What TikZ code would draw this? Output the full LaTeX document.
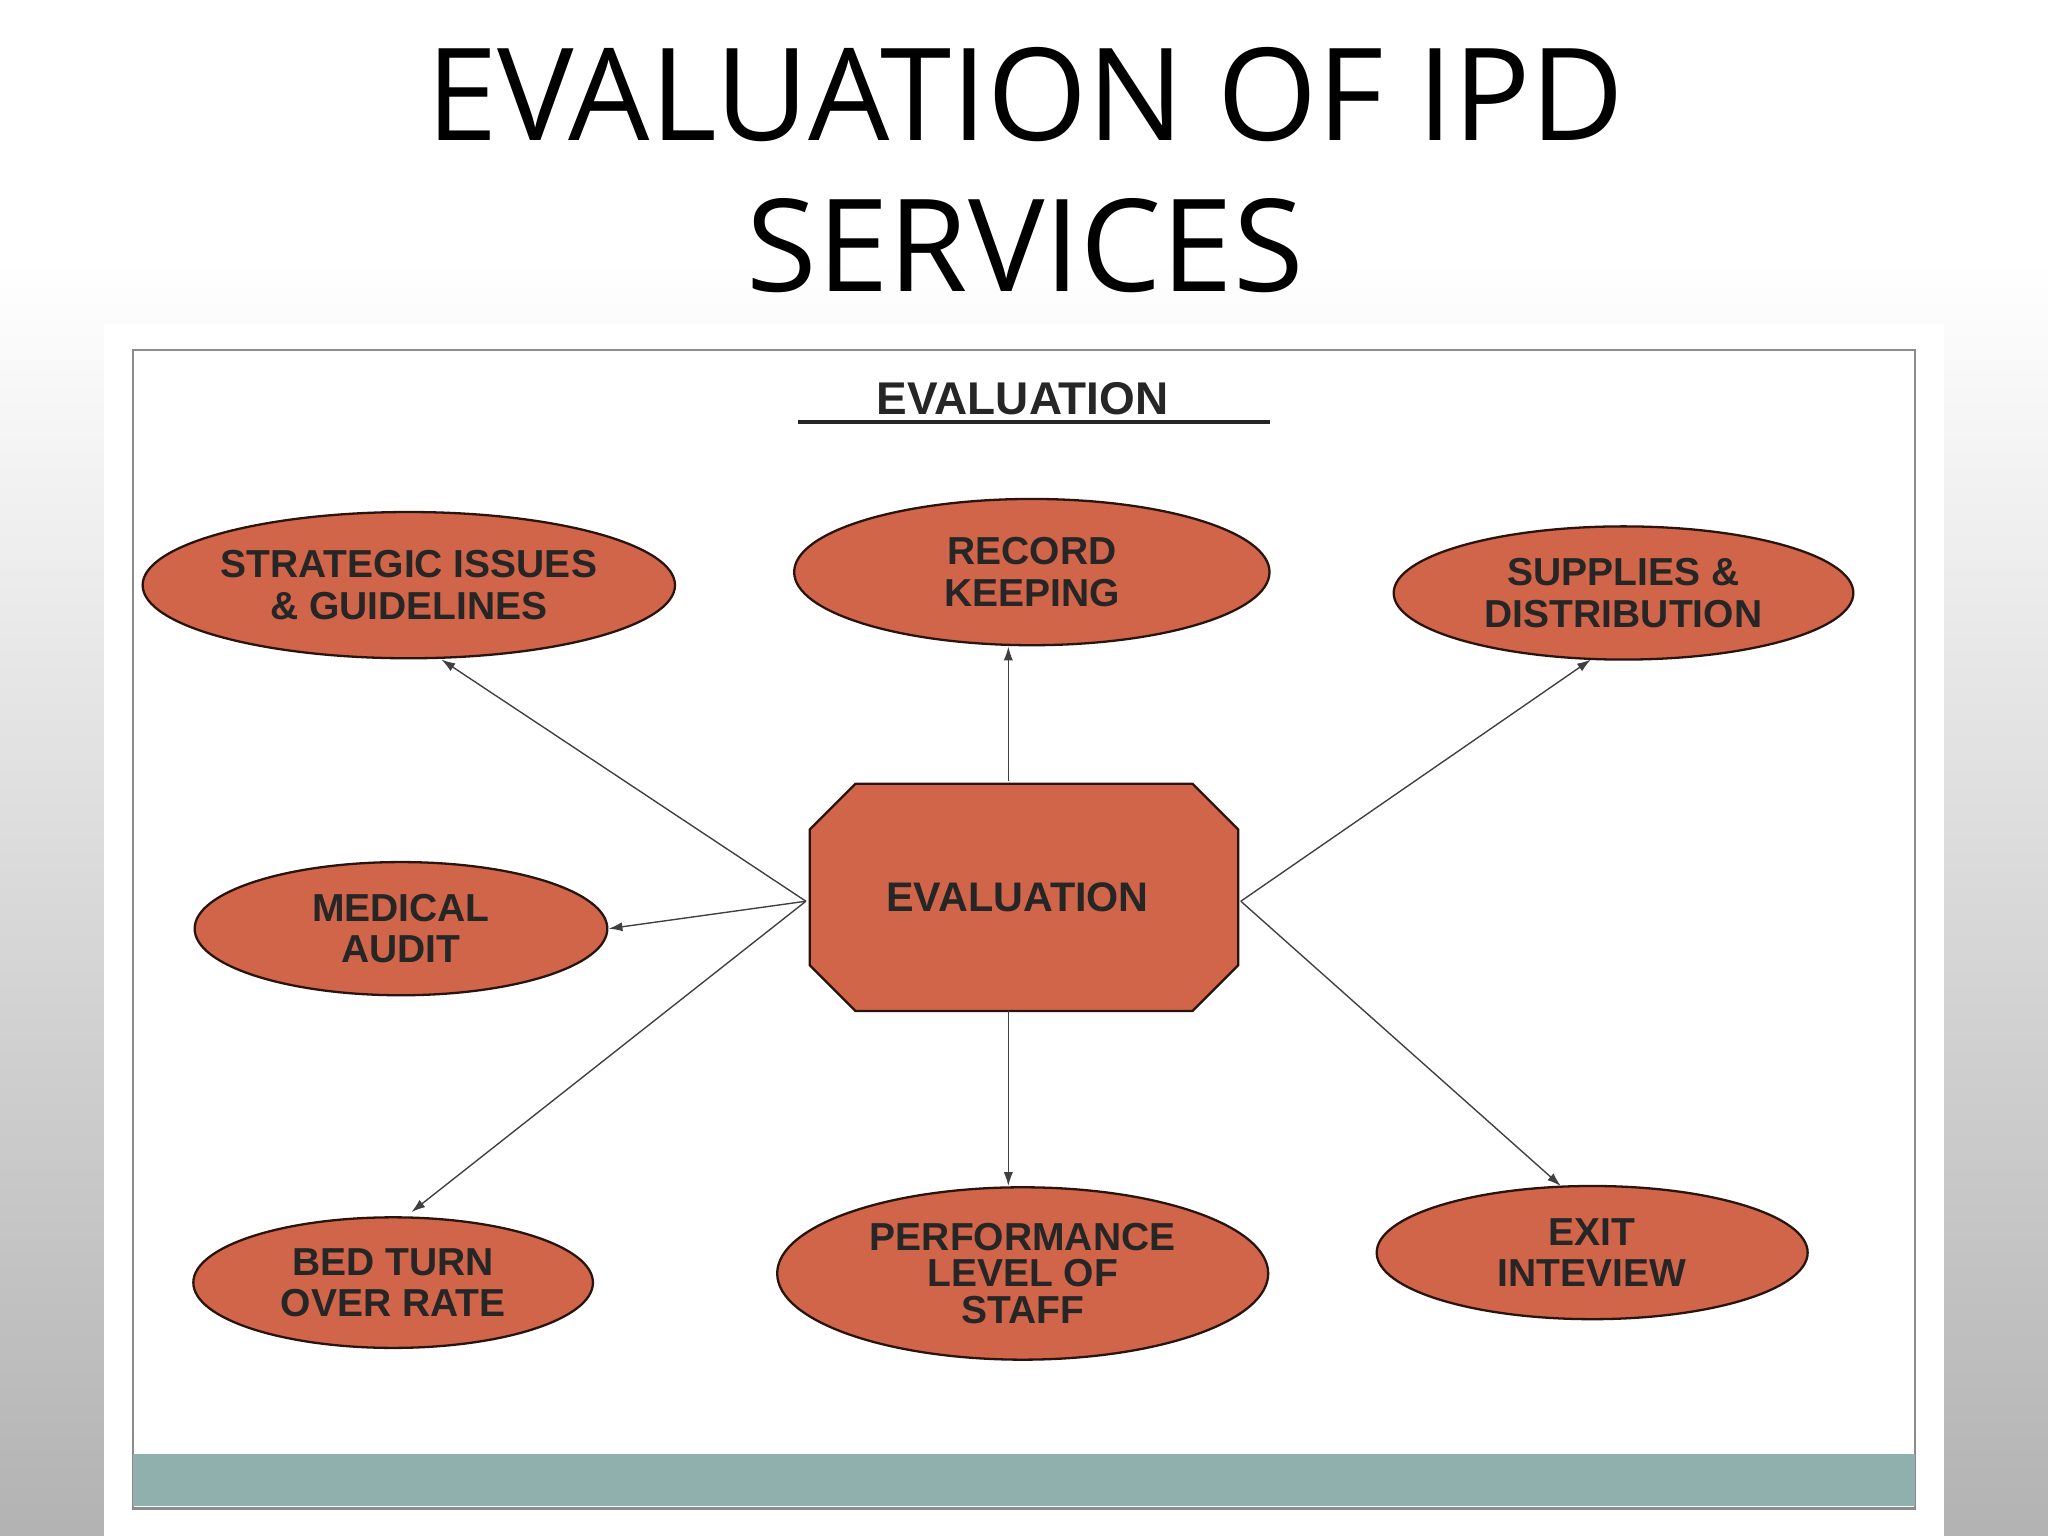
\documentclass[tikz,border=0pt]{standalone}
\usepackage{fontspec}
\setmainfont{Open Sans}
\newfontfamily\blk{Liberation Sans}
\usetikzlibrary{shapes.geometric,arrows.meta}
\definecolor{nodefill}{HTML}{D0654A}
\definecolor{teal}{HTML}{8FB0AD}
\tikzset{
 el/.style={ellipse,draw=black!80!nodefill,line width=1pt,fill=nodefill,inner sep=0pt,
   font={\blk\bfseries\fontsize{17}{20}\selectfont},text=black!85,align=center},
 arr/.style={draw=black!75,line width=0.6pt,-{Latex[length=6pt,width=4pt]}}
}
\begin{document}
\begin{tikzpicture}[x=0.02cm,y=-0.02cm]
\useasboundingbox (0,0) rectangle (1568,1176);
\fill[white] (0,0) rectangle (1568,200);
\shade[top color=white,bottom color=black!30] (0,200) rectangle (1568,1176);
\node[font=\fontsize{56}{66}\selectfont,align=center] (title) at (785,130) {EVALUATION OF IPD\\SERVICES};
\fill[white] (80,248) rectangle (1488,1176);
\draw[black!45,line width=1pt] (102,268) rectangle (1466,1155);
\fill[teal] (102,1113) rectangle (1466,1153);
\node[font={\blk\bfseries\fontsize{20}{24}\selectfont},text=black!85] (head) at (783,305) {EVALUATION};
\draw[black!85,line width=1.5pt] (611,323) -- (972,323);
\fill[nodefill] (655,600)--(913,600)--(948,635)--(948,739)--(913,774)--(655,774)--(620,739)--(620,635)--cycle;
\draw[black!80!nodefill,line width=1pt] (655,600)--(913,600)--(948,635)--(948,739)--(913,774)--(655,774)--(620,739)--(620,635)--cycle;
\node[font={\blk\bfseries\fontsize{18}{22}\selectfont},text=black!85] (oct) at (779,687) {EVALUATION};
\node[el,minimum width=8cm,minimum height=2.24cm] (str) at (313,448) {STRATEGIC ISSUES\\[-2pt]\& GUIDELINES};
\node[el,minimum width=7.28cm,minimum height=2.24cm] (rec) at (790,438) {RECORD\\[-2pt]KEEPING};
\node[el,minimum width=7.04cm,minimum height=2.04cm] (sup) at (1243,454) {SUPPLIES \&\\[-2pt]DISTRIBUTION};
\node[el,minimum width=6.32cm,minimum height=2.04cm] (med) at (307,711) {MEDICAL\\[-2pt]AUDIT};
\node[el,minimum width=6.12cm,minimum height=2cm] (bed) at (301,982) {BED TURN\\[-2pt]OVER RATE};
\node[el,minimum width=7.52cm,minimum height=2.64cm] (per) at (783,975) {PERFORMANCE\\[-4pt]LEVEL OF\\[-4pt]STAFF};
\node[el,minimum width=6.6cm,minimum height=2.04cm] (exi) at (1219,959) {EXIT\\[-2pt]INTEVIEW};
\coordinate (L) at (617,690);
\coordinate (R) at (950,690);
\coordinate (T) at (772,598);
\coordinate (B) at (772,774);
\coordinate (eS) at (338,505);
\coordinate (eR) at (772,495);
\coordinate (eU) at (1218,505);
\coordinate (eM) at (466,711);
\coordinate (eB) at (315,928);
\coordinate (eP) at (772,908);
\coordinate (eX) at (1195,908);
\draw[arr] (L) -- (eS);
\draw[arr] (T) -- (eR);
\draw[arr] (R) -- (eU);
\draw[arr] (L) -- (eM);
\draw[arr] (L) -- (eB);
\draw[arr] (B) -- (eP);
\draw[arr] (R) -- (eX);
\end{tikzpicture}
\end{document}
